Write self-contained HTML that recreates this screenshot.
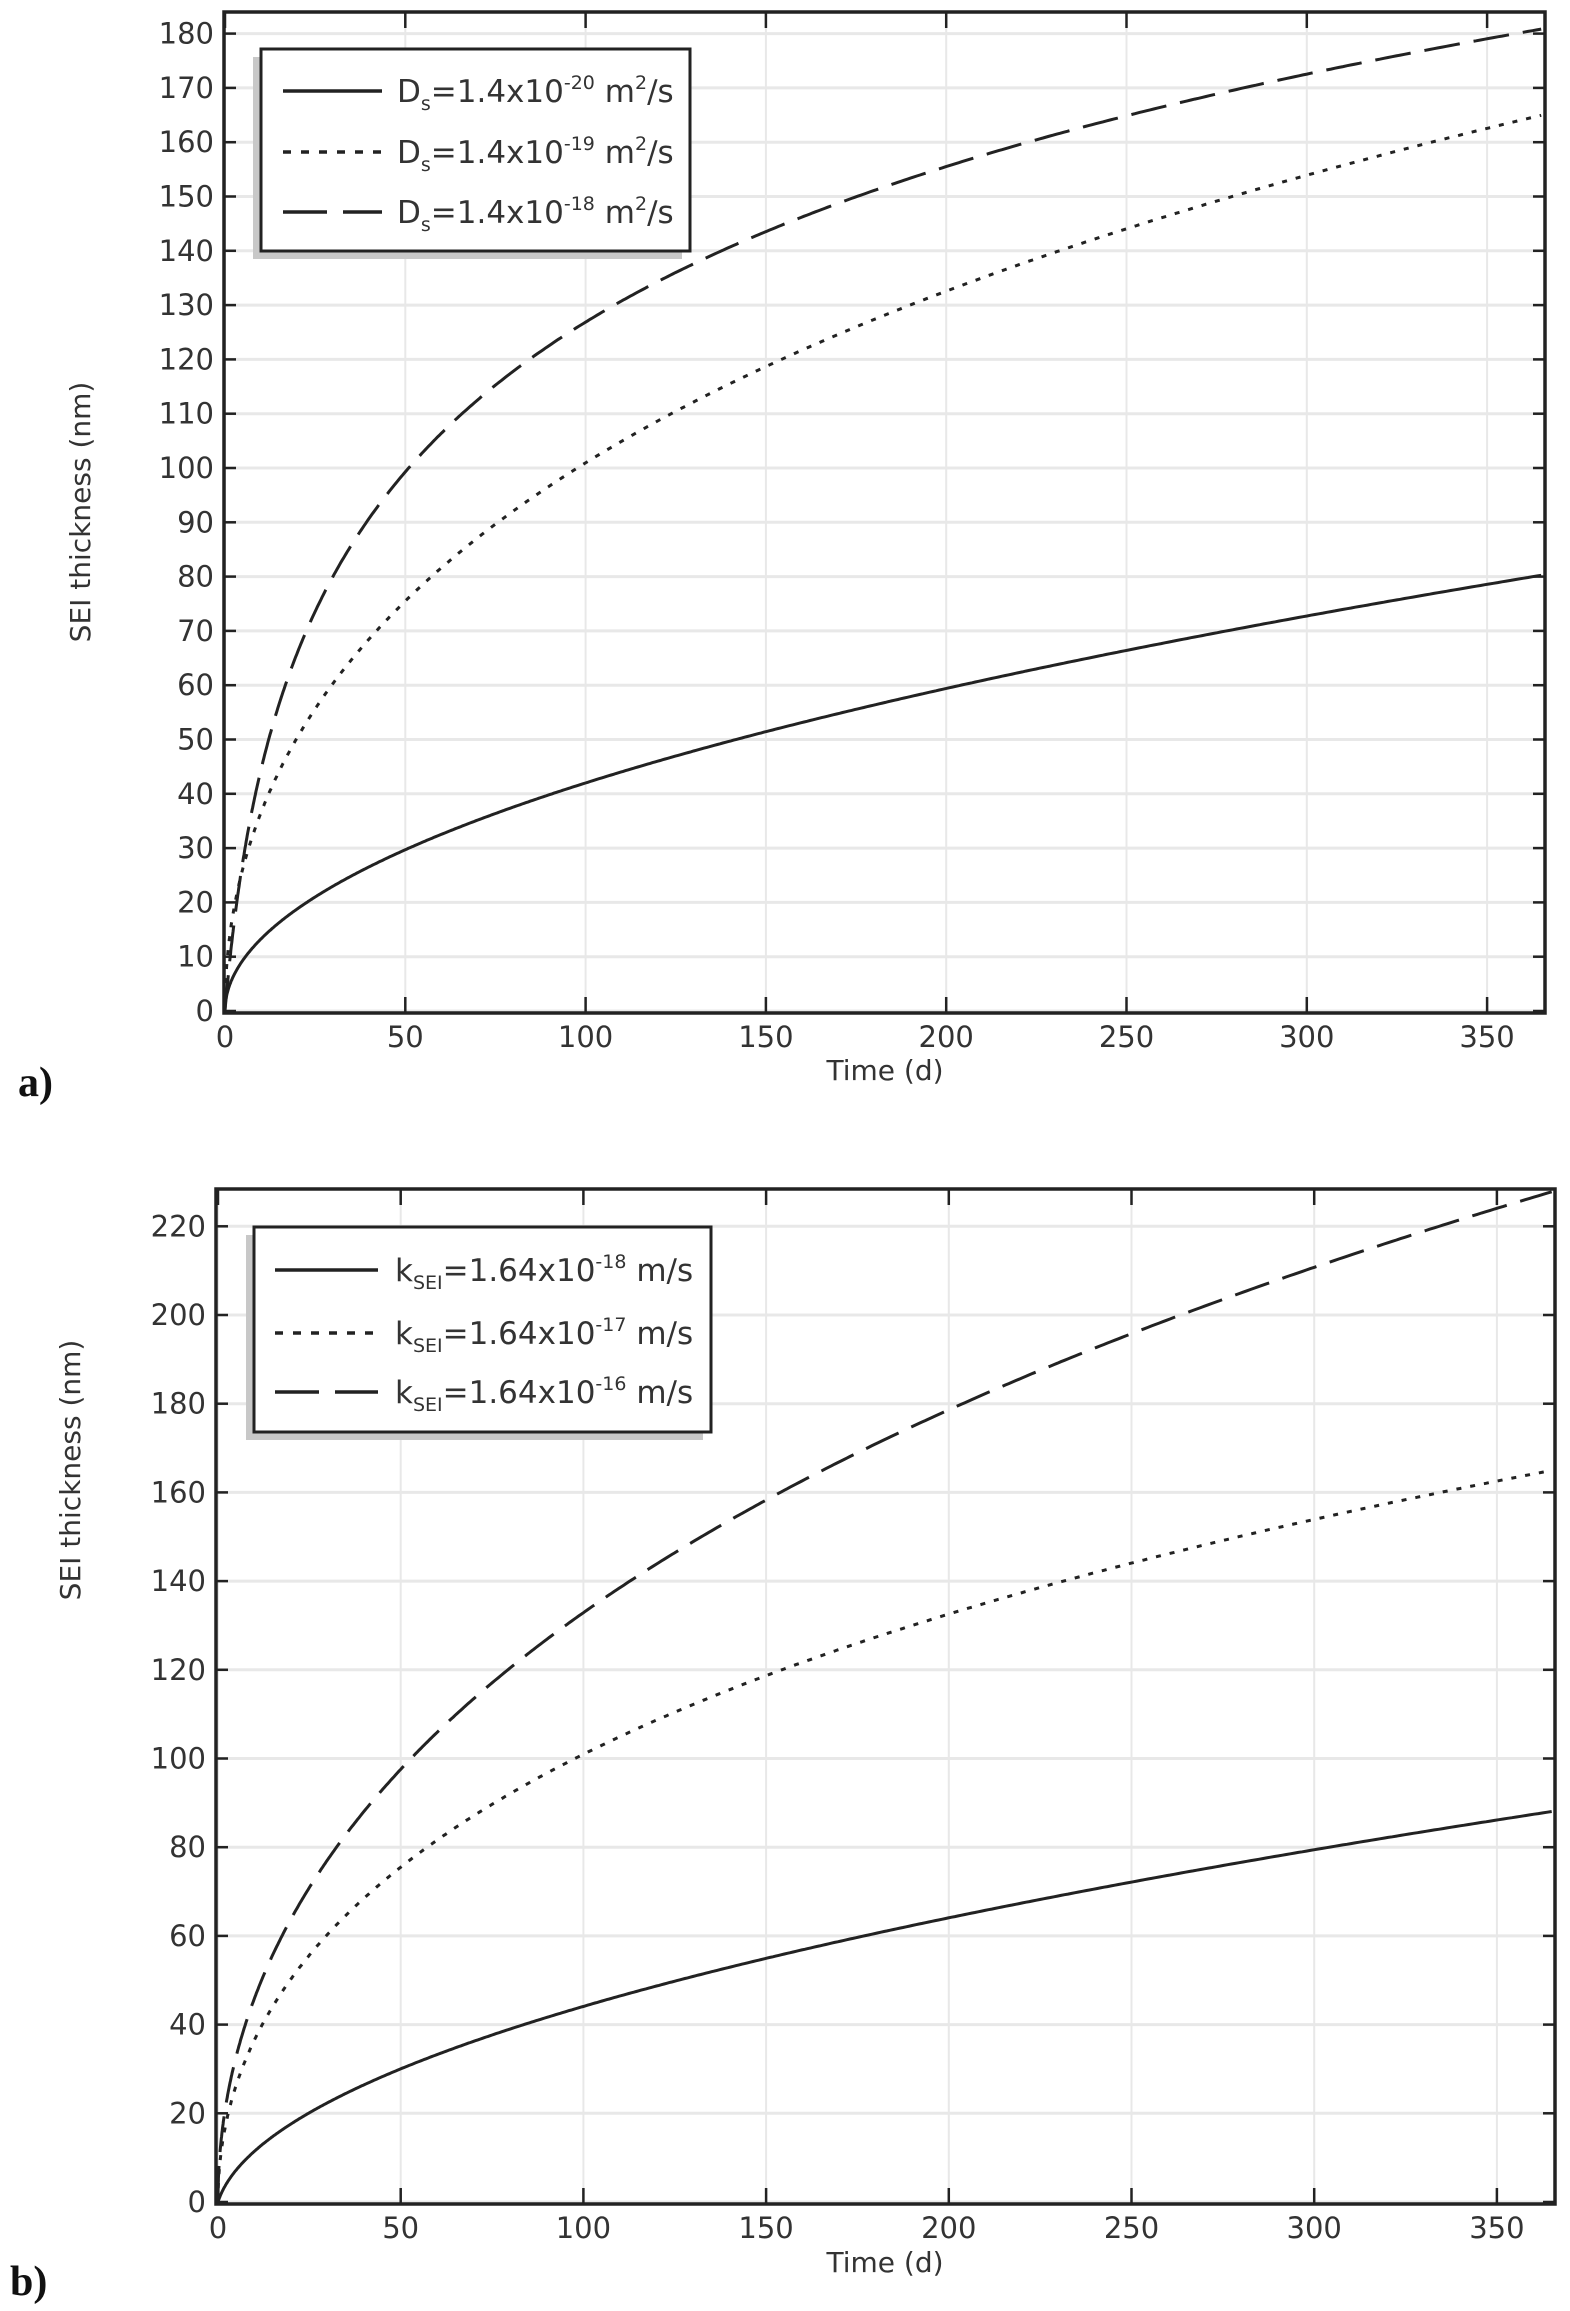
<!DOCTYPE html>
<html><head><meta charset="utf-8"><style>
html,body{margin:0;padding:0;background:#fff;}
svg{display:block;}
text{font-family:"DejaVu Sans","Liberation Sans",sans-serif;fill:#333;}
</style></head><body>
<svg id="s" width="1570" height="2311" viewBox="0 0 1570 2311" xmlns="http://www.w3.org/2000/svg">
<text x="18" y="1096" style="font-family:'Liberation Serif',serif;font-weight:bold;font-size:42px;fill:#111">a)</text>
<text x="10" y="2295" style="font-family:'Liberation Serif',serif;font-weight:bold;font-size:42px;fill:#111">b)</text>
<text transform="translate(90,512) rotate(-90)" text-anchor="middle" font-size="28">SEI thickness (nm)</text>
<text transform="translate(80,1470) rotate(-90)" text-anchor="middle" font-size="28">SEI thickness (nm)</text>
<text x="885" y="1080" text-anchor="middle" font-size="28">Time (d)</text>
<text x="885" y="2272" text-anchor="middle" font-size="28">Time (d)</text>
<g id="ga"></g><g id="gb"></g>
</svg>
<script>
var NS="http://www.w3.org/2000/svg";
function el(p,t,a,txt){var e=document.createElementNS(NS,t);for(var k in a)e.setAttribute(k,a[k]);if(txt!=null)e.textContent=txt;p.appendChild(e);return e;}
function plot(g,P){
 var X=function(t){return P.x0+t*P.sx;},Y=function(v){return P.y0-v*P.sy;};
 for(var t=0;t<=350;t+=50)el(g,'line',{x1:X(t),x2:X(t),y1:P.top,y2:P.bot,stroke:'#e8e8e8','stroke-width':2});
 for(var v=0;v<=P.ymax;v+=P.yst)el(g,'line',{x1:P.left,x2:P.right,y1:Y(v),y2:Y(v),stroke:'#e8e8e8','stroke-width':3});
 var dash={s:'',d:'5 9',l:'36 14'};
 P.series.forEach(function(s){var pts=[];for(var i=0;i<=600;i++){var t=365*Math.pow(i/600,2);pts.push(X(t).toFixed(1)+','+Y(s.f(t)).toFixed(1));}
  var a={points:pts.join(' '),fill:'none',stroke:'#222','stroke-width':3};if(dash[s.k])a['stroke-dasharray']=dash[s.k];el(g,'polyline',a);});
 el(g,'rect',{x:P.left,y:P.top,width:P.right-P.left,height:P.bot-P.top,fill:'none',stroke:'#222','stroke-width':3.5});
 for(var t=0;t<=350;t+=50){el(g,'line',{x1:X(t),x2:X(t),y1:P.bot,y2:P.bot-16,stroke:'#222','stroke-width':2.5});el(g,'line',{x1:X(t),x2:X(t),y1:P.top,y2:P.top+16,stroke:'#222','stroke-width':2.5});
  el(g,'text',{x:X(t),y:P.bot+34,'text-anchor':'middle','font-size':29},t);}
 for(var v=0;v<=P.ymax;v+=P.yst){el(g,'line',{x1:P.left,x2:P.left+12,y1:Y(v),y2:Y(v),stroke:'#222','stroke-width':2.5});el(g,'line',{x1:P.right,x2:P.right-12,y1:Y(v),y2:Y(v),stroke:'#222','stroke-width':2.5});
  el(g,'text',{x:P.left-10,y:Y(v)+10,'text-anchor':'end','font-size':29},v);}
 var L=P.leg;
 el(g,'rect',{x:L.x-8,y:L.y+8,width:L.w,height:L.h,fill:'#c8c8c8'});
 el(g,'rect',{x:L.x,y:L.y,width:L.w,height:L.h,fill:'#fff',stroke:'#222','stroke-width':3});
 L.rows.forEach(function(r,i){var a={x1:L.lx1,x2:L.lx2,y1:r.y,y2:r.y,stroke:'#222','stroke-width':3.5};if(dash[r.k])a['stroke-dasharray']=r.k=='d'?'8 10':'44 16';el(g,'line',a);
  var tx=el(g,'text',{x:L.tx,y:r.y+11,'font-size':31});
  el(tx,'tspan',{},r.a);el(tx,'tspan',{'font-size':19,dy:8},r.sub);el(tx,'tspan',{dy:-8},r.b);el(tx,'tspan',{'font-size':19,dy:-13},r.sup);el(tx,'tspan',{dy:13},r.c);
  if(r.sup2){el(tx,'tspan',{'font-size':19,dy:-13},r.sup2);el(tx,'tspan',{dy:13},r.d);}
 });
}
function rat(A,B){return function(t){var u=Math.sqrt(t);return A*u/(1+u/B);};}
plot(document.getElementById('ga'),{x0:225,sx:3.606,y0:1011,sy:5.43,left:224,right:1545,top:12,bot:1013,ymax:180,yst:10,
 series:[
 {k:'s',f:function(t){return 4.2*Math.sqrt(t);}},
 {k:'d',f:rat(12.4,43.8)},
 {k:'l',f:function(t){return 42.95*Math.log(1+t/5.5);}}],
 leg:{x:261,y:49,w:429,h:202,lx1:283,lx2:382,tx:397,rows:[
 {k:'s',y:91,a:'D',sub:'s',b:'=1.4x10',sup:'-20',c:' m',sup2:'2',d:'/s'},
 {k:'d',y:152,a:'D',sub:'s',b:'=1.4x10',sup:'-19',c:' m',sup2:'2',d:'/s'},
 {k:'l',y:212,a:'D',sub:'s',b:'=1.4x10',sup:'-18',c:' m',sup2:'2',d:'/s'}]}});
plot(document.getElementById('gb'),{x0:218,sx:3.654,y0:2202,sy:4.435,left:216,right:1555,top:1189,bot:2204,ymax:220,yst:20,
 series:[
 {k:'s',f:function(t){return Math.sqrt(23.4*t+20.07)-4.48;}},
 {k:'d',f:rat(12.4,43.8)},
 {k:'l',f:rat(15.2,69.5)}],
 leg:{x:254,y:1227,w:457,h:205,lx1:275,lx2:378,tx:395,rows:[
 {k:'s',y:1270,a:'k',sub:'SEI',b:'=1.64x10',sup:'-18',c:' m/s'},
 {k:'d',y:1333,a:'k',sub:'SEI',b:'=1.64x10',sup:'-17',c:' m/s'},
 {k:'l',y:1392,a:'k',sub:'SEI',b:'=1.64x10',sup:'-16',c:' m/s'}]}});
</script>
</body></html>
